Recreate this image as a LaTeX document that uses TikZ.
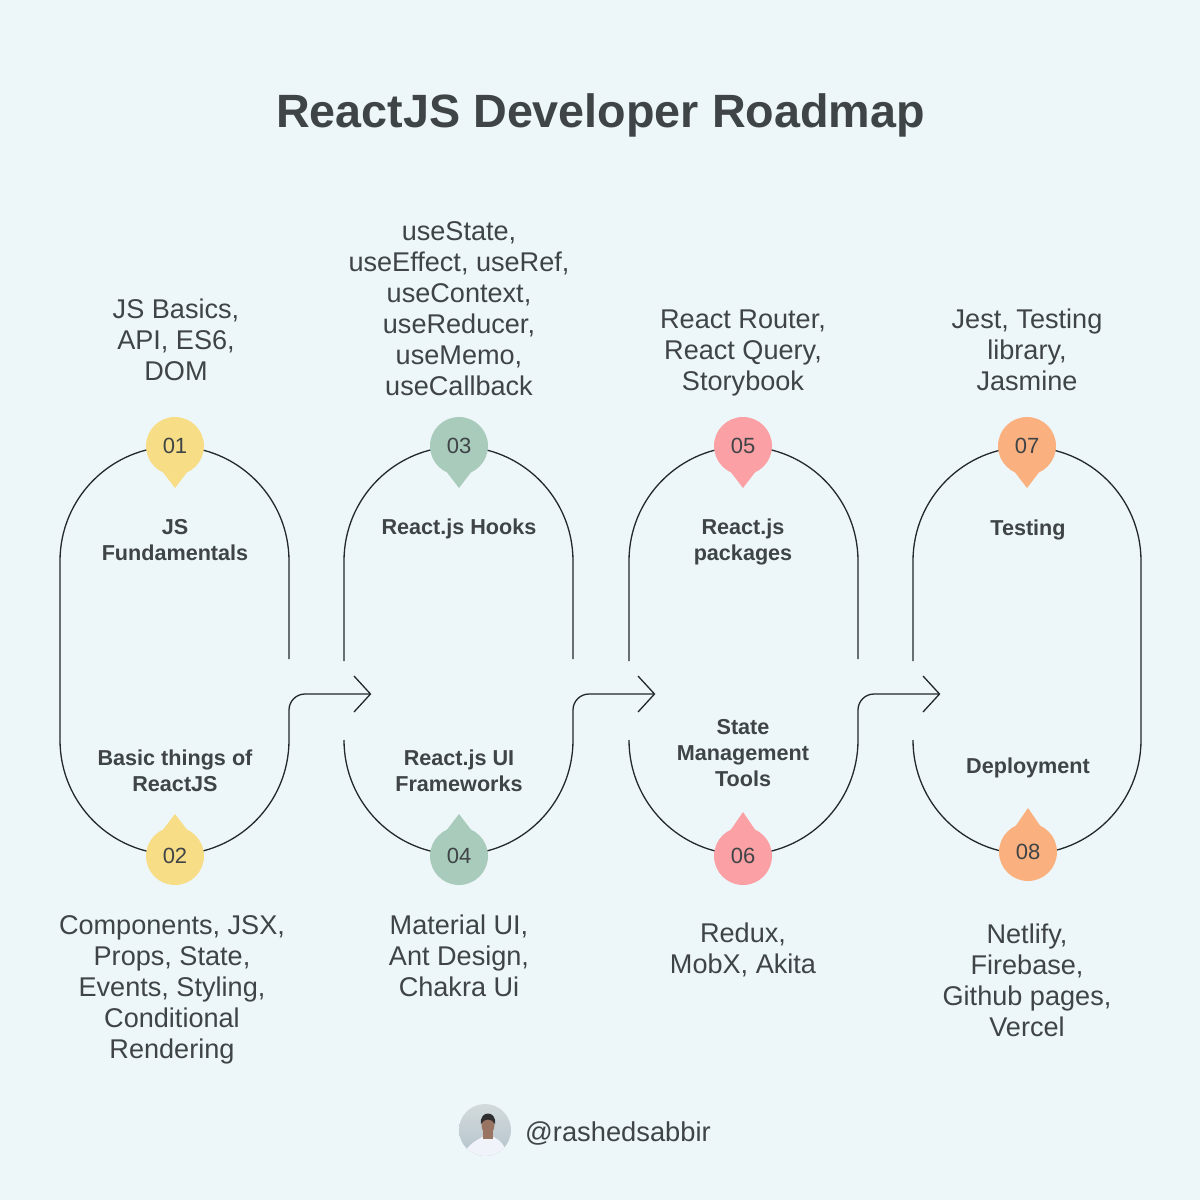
\documentclass[tikz,border=0pt]{standalone}
\usepackage{fontspec}
\setmainfont{Liberation Sans}
\definecolor{bgc}{HTML}{EDF6F8}
\definecolor{inkc}{HTML}{3F4447}
\definecolor{linec}{HTML}{22282B}
\definecolor{pinA}{HTML}{F8DD87}
\definecolor{pinB}{HTML}{A9CBBB}
\definecolor{pinC}{HTML}{FBA0A4}
\definecolor{pinD}{HTML}{FBB080}
\definecolor{avtop}{HTML}{D3DADC}
\definecolor{avbot}{HTML}{B4C4CC}
\definecolor{skin}{HTML}{9A7462}
\definecolor{shirt}{HTML}{F1F3FA}
\tikzset{
  body/.style={text=inkc,align=center,inner sep=0pt,font=\fontsize{27.1}{31}\selectfont},
  head/.style={text=inkc,align=center,inner sep=0pt,font=\fontsize{21.6}{26}\selectfont\bfseries},
  num/.style={text=inkc,inner sep=0pt,font=\fontsize{22}{26}\selectfont},
  loopline/.style={draw=linec,line width=1.3pt,line cap=butt},
  tiphead/.style={draw=linec,line width=1.3pt,line join=miter}
}
\newcommand{\pinup}[5]{% x y tipy colour label
  \fill[#4] (#1-13,{#2+25*(#3-#2)/abs(#3-#2)}) -- (#1,#3) -- (#1+13,{#2+25*(#3-#2)/abs(#3-#2)}) -- cycle;
  \fill[#4] (#1,#2) circle[radius=29];
  \node[num] at (#1,#2) {#5};
}
\begin{document}
\begin{tikzpicture}[x=1pt,y=-1pt]
\useasboundingbox (0,0) rectangle (1200,1200);
\fill[bgc] (0,0) rectangle (1200,1200);
% loop 1
\draw[loopline] (289,659) -- (289,561) arc[start angle=0,end angle=-180,radius=114.5] -- (60,740) arc[start angle=180,end angle=0,radius=114.5] -- (289,710) arc[start angle=180,end angle=270,radius=16] -- (370,694);
% loop 2
\draw[loopline] (344,661) -- (344,561) arc[start angle=180,end angle=360,radius=114.5] -- (573,659);
\draw[loopline] (344,740) arc[start angle=180,end angle=0,radius=114.5] -- (573,710) arc[start angle=180,end angle=270,radius=16] -- (654,694);
% loop 3
\draw[loopline] (629,661) -- (629,561) arc[start angle=180,end angle=360,radius=114.5] -- (858,659);
\draw[loopline] (629,740) arc[start angle=180,end angle=0,radius=114.5] -- (858,710) arc[start angle=180,end angle=270,radius=16] -- (939,694);
% loop 4
\draw[loopline] (913,661) -- (913,561) arc[start angle=180,end angle=360,radius=114] -- (1141,740) arc[start angle=0,end angle=180,radius=114];
% arrow heads
\draw[tiphead] (354,676) -- (370.5,694) -- (354,712);
\draw[tiphead] (638,676) -- (654.5,694) -- (638,712);
\draw[tiphead] (923,676) -- (939.5,694) -- (923,712);
% pins
\pinup{175}{446}{488}{pinA}{01}
\pinup{175}{856}{814}{pinA}{02}
\pinup{459}{446}{488}{pinB}{03}
\pinup{459}{856}{814}{pinB}{04}
\pinup{743}{446}{488}{pinC}{05}
\pinup{743}{856}{812}{pinC}{06}
\pinup{1027}{446}{488}{pinD}{07}
\pinup{1028}{852}{808}{pinD}{08}
% title
\node[text=inkc,inner sep=0pt,font=\fontsize{46.7}{50}\selectfont\bfseries] (title) at (600.5,115) {ReactJS Developer Roadmap};
% headings
\node[head] (h1) at (175,540) {JS\\Fundamentals};
\node[head] (h2) at (175,771) {Basic things of\\ReactJS};
\node[head] (h3) at (459,529) {React.js Hooks};
\node[head] (h4) at (459,771) {React.js UI\\Frameworks};
\node[head] (h5) at (743,542) {React.js\\packages};
\node[head] (h6) at (743,753) {State\\Management\\Tools};
\node[head] (h7) at (1028,530) {Testing};
\node[head] (h8) at (1028,768) {Deployment};
% bodies
\node[body] (b1) at (176,340) {JS Basics,\\API, ES6,\\DOM};
\node[body] (b2) at (172,990) {Components, JSX,\\Props, State,\\Events, Styling,\\Conditional\\Rendering};
\node[body] (b3) at (459,309) {useState,\\useEffect, useRef,\\useContext,\\useReducer,\\useMemo,\\useCallback};
\node[body] (b4) at (459,956) {Material UI,\\Ant Design,\\Chakra Ui};
\node[body] (b5) at (743,353) {React Router,\\React Query,\\Storybook};
\node[body] (b6) at (743,950) {Redux,\\MobX, Akita};
\node[body] (b7) at (1027,350) {Jest, Testing\\library,\\Jasmine};
\node[body] (b8) at (1027,980) {Netlify,\\Firebase,\\Github pages,\\Vercel};
% avatar
\begin{scope}
\clip (485,1130) circle[radius=26];
\shade[top color=avtop,bottom color=avbot] (459,1104) rectangle (511,1156);
\fill[shirt] (462,1160) .. controls (465,1145) and (476,1141) .. (482,1137) -- (494,1137) .. controls (500,1141) and (505,1143) .. (508,1160) -- cycle;
\fill[skin] (483,1130) rectangle (493,1139);
\fill[skin] (488,1125) ellipse[x radius=6.5,y radius=9];
\fill[black!82] (481,1124) .. controls (479,1110) and (497,1110) .. (495,1124) .. controls (492,1118) and (484,1118) .. cycle;
\end{scope}
\node[text=inkc,inner sep=0pt,anchor=west,font=\fontsize{27.3}{31}\selectfont] (handle) at (525,1133) {@rashedsabbir};
\end{tikzpicture}
\end{document}
